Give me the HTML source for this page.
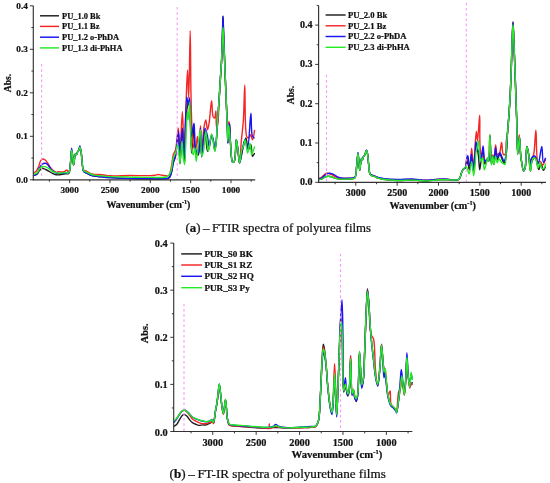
<!DOCTYPE html><html><head><meta charset="utf-8"><style>html,body{margin:0;padding:0;background:#fff;}svg{display:block;}</style></head><body><svg width="550" height="483" viewBox="0 0 550 483" font-family="'Liberation Serif',serif" font-weight="bold" fill="#111"><style>text{stroke:#111;stroke-width:0.22px}</style>
<rect width="550" height="483" fill="#fff"/>
<path d="M33.50,175.60 C33.50,175.60 36.02,175.08 37.00,174.30 C38.10,173.43 38.65,171.46 39.60,170.40 C40.41,169.49 41.22,168.37 42.20,168.20 C43.21,168.03 44.47,169.00 45.60,169.50 C46.77,170.02 47.94,170.66 49.10,171.30 C50.28,171.96 51.42,172.81 52.60,173.40 C53.72,173.96 54.84,174.57 56.00,174.80 C57.14,175.02 58.22,174.91 59.50,174.80 C61.09,174.67 63.17,174.14 64.80,173.90 C66.20,173.69 67.77,174.28 68.70,173.40 C70.11,172.07 69.94,167.81 70.40,164.50 C70.97,160.37 71.10,150.52 71.60,150.50 C71.95,150.48 72.47,155.02 72.80,157.40 C73.15,159.91 73.28,165.19 73.60,165.20 C73.92,165.21 74.31,159.46 74.70,157.40 C74.96,156.03 75.03,154.22 75.50,154.00 C75.77,153.87 76.20,154.61 76.50,154.50 C77.00,154.31 77.26,152.29 77.70,151.60 C77.98,151.15 78.32,151.06 78.60,150.60 C79.04,149.88 79.41,147.49 79.80,147.50 C80.24,147.51 80.74,149.83 81.10,151.60 C81.72,154.63 81.82,160.65 82.30,164.20 C82.66,166.82 82.54,169.51 83.50,171.00 C84.18,172.06 85.34,172.37 86.40,173.00 C87.58,173.71 88.97,174.50 90.30,175.00 C91.57,175.48 92.67,175.72 94.20,176.00 C96.34,176.40 99.40,176.63 102.00,176.90 C104.60,177.17 106.59,177.38 109.80,177.60 C114.96,177.96 123.28,178.40 130.00,178.60 C136.68,178.80 143.46,178.87 150.00,178.80 C156.31,178.73 165.70,179.76 168.60,178.20 C169.82,177.54 169.98,176.61 170.50,175.50 C171.19,174.04 171.56,172.02 172.00,170.00 C172.52,167.59 172.66,164.45 173.30,162.00 C173.87,159.83 174.85,158.70 175.50,156.00 C176.74,150.86 177.57,132.98 178.30,133.00 C179.14,133.03 179.34,163.79 180.00,163.80 C180.69,163.81 181.63,130.00 182.40,130.00 C183.16,130.00 183.93,163.01 184.60,163.00 C185.44,162.99 185.18,120.26 186.80,110.00 C187.48,105.70 188.62,100.92 189.30,101.00 C190.91,101.18 190.63,152.98 191.60,153.00 C192.30,153.02 193.31,125.99 194.00,126.00 C194.67,126.01 193.99,147.72 195.70,152.00 C196.36,153.66 197.58,155.17 198.20,155.00 C199.14,154.73 199.14,149.39 199.50,146.00 C199.96,141.64 200.18,131.00 200.50,131.00 C200.92,131.00 200.97,156.97 201.70,157.00 C202.45,157.03 203.99,130.00 205.00,130.00 C205.90,130.00 206.35,151.21 207.50,151.40 C207.98,151.48 208.59,149.52 209.10,148.00 C210.02,145.26 210.75,136.05 211.60,136.00 C212.16,135.97 212.81,139.02 213.30,141.00 C213.98,143.74 214.38,151.01 214.90,151.00 C215.49,150.99 216.28,141.82 216.60,138.00 C216.85,135.02 216.72,133.20 216.90,130.00 C217.16,125.20 217.78,117.91 218.20,112.00 C218.61,106.25 219.02,100.75 219.40,95.00 C219.79,89.09 220.13,82.91 220.50,77.00 C220.86,71.25 221.33,65.52 221.60,60.00 C221.85,54.76 221.93,49.78 222.09,44.67 C222.25,39.56 222.42,34.25 222.58,29.34 C222.73,24.79 222.85,16.20 223.00,16.20 C223.15,16.20 223.31,24.79 223.48,29.34 C223.66,34.25 223.85,39.56 224.04,44.67 C224.23,49.78 224.40,54.69 224.60,60.00 C224.82,65.76 225.06,72.09 225.30,78.00 C225.53,83.75 225.77,89.33 226.00,95.00 C226.23,100.67 226.47,106.25 226.70,112.00 C226.94,117.91 227.19,124.49 227.40,130.00 C227.58,134.69 227.61,142.99 227.90,143.00 C228.25,143.01 229.06,123.19 229.50,123.20 C229.96,123.21 230.04,138.00 230.60,144.80 C231.11,150.92 231.15,161.44 232.60,162.20 C233.08,162.45 233.82,162.02 234.30,161.30 C235.92,158.88 235.56,139.82 236.30,139.80 C236.80,139.78 237.39,146.15 237.90,149.70 C238.49,153.80 238.82,162.96 239.60,163.00 C240.38,163.04 241.53,154.24 242.60,150.00 C243.63,145.91 244.93,137.97 245.90,138.00 C246.85,138.03 247.33,149.56 248.40,149.70 C249.12,149.80 250.26,144.69 250.90,144.80 C251.84,144.96 251.55,156.20 252.50,156.40 C253.06,156.52 254.60,153.00 254.60,153.00" fill="none" stroke="#1e1e1e" stroke-width="1.4" stroke-linejoin="round"/>
<path d="M33.50,173.00 C33.50,173.00 35.26,172.27 36.00,171.50 C36.99,170.48 37.78,168.64 38.50,167.00 C39.30,165.18 39.70,162.39 40.50,161.00 C41.01,160.12 41.47,159.30 42.20,159.10 C43.00,158.87 44.35,159.44 45.20,160.00 C46.09,160.58 46.68,161.59 47.40,162.60 C48.28,163.82 49.08,165.62 50.00,166.90 C50.82,168.05 51.60,169.13 52.60,170.00 C53.60,170.86 54.89,171.87 56.00,172.10 C56.92,172.29 57.81,171.71 58.70,171.70 C59.57,171.69 60.37,172.04 61.30,172.00 C62.38,171.96 63.81,171.69 64.80,171.30 C65.62,170.98 66.26,169.90 66.90,170.00 C67.57,170.10 68.20,172.23 68.70,172.10 C69.56,171.88 69.95,167.21 70.40,164.20 C70.99,160.27 71.11,150.52 71.60,150.50 C71.95,150.49 72.47,155.02 72.80,157.40 C73.15,159.91 73.28,165.19 73.60,165.20 C73.92,165.21 74.31,159.46 74.70,157.40 C74.96,156.03 75.03,154.22 75.50,154.00 C75.77,153.87 76.20,154.61 76.50,154.50 C77.00,154.31 77.26,152.29 77.70,151.60 C77.98,151.15 78.32,151.07 78.60,150.60 C79.06,149.83 79.41,147.19 79.80,147.20 C80.24,147.21 80.74,149.73 81.10,151.60 C81.70,154.70 81.79,160.82 82.30,164.20 C82.65,166.52 82.56,168.87 83.50,170.00 C84.18,170.82 85.38,170.69 86.40,171.20 C87.62,171.81 88.96,172.96 90.30,173.50 C91.56,174.00 92.67,174.20 94.20,174.40 C96.34,174.69 99.41,174.47 102.00,174.70 C104.61,174.93 106.58,175.60 109.80,175.80 C114.95,176.12 123.28,175.53 130.00,175.50 C136.68,175.47 145.56,175.77 150.00,175.60 C152.22,175.52 153.49,175.41 155.00,175.20 C156.28,175.02 157.33,174.50 158.50,174.50 C159.67,174.50 160.64,175.02 162.00,175.20 C163.85,175.44 167.19,176.48 168.60,175.60 C169.83,174.83 169.97,172.78 170.50,171.00 C171.17,168.73 171.54,165.69 172.00,163.00 C172.47,160.26 172.59,157.03 173.30,154.70 C173.86,152.87 174.86,152.21 175.50,150.00 C176.82,145.45 177.55,128.18 178.30,128.20 C179.04,128.22 179.42,149.70 180.00,149.70 C180.77,149.69 181.72,111.59 182.40,111.60 C183.08,111.61 183.55,149.70 184.10,149.70 C184.58,149.70 185.01,131.19 185.50,120.00 C186.13,105.47 186.91,69.90 187.50,69.90 C187.94,69.90 188.33,98.00 188.70,98.00 C189.27,97.99 189.81,30.80 190.20,30.80 C190.58,30.80 190.56,75.93 191.00,95.00 C191.35,110.34 191.58,126.97 192.40,136.50 C192.83,141.54 193.09,145.80 194.00,148.00 C194.42,149.02 195.07,150.11 195.50,150.00 C196.51,149.74 196.81,136.49 197.40,136.50 C197.98,136.51 198.54,149.71 199.00,149.70 C199.62,149.68 200.05,125.70 200.50,125.70 C200.95,125.70 201.09,149.68 201.70,149.70 C202.30,149.72 203.14,131.86 204.10,126.50 C204.62,123.61 205.28,119.88 205.80,119.90 C206.43,119.93 206.89,129.78 207.50,129.80 C208.00,129.82 208.59,126.08 209.10,123.20 C210.03,117.93 210.88,100.60 211.60,100.60 C212.21,100.60 211.98,114.89 213.20,117.00 C213.59,117.68 214.22,118.15 214.60,118.00 C215.38,117.69 215.58,110.98 215.90,111.00 C216.38,111.03 215.81,126.74 216.60,127.00 C216.82,127.07 217.16,126.63 217.40,126.00 C218.60,122.89 218.84,103.94 219.40,95.00 C219.83,88.19 220.13,82.91 220.50,77.00 C220.86,71.25 221.33,65.18 221.60,60.00 C221.83,55.63 221.93,51.95 222.09,47.92 C222.25,43.90 222.42,39.72 222.58,35.85 C222.73,32.27 222.85,25.50 223.00,25.50 C223.15,25.50 223.31,32.27 223.48,35.85 C223.66,39.72 223.85,43.90 224.04,47.92 C224.23,51.95 224.41,55.57 224.60,60.00 C224.83,65.40 225.06,72.09 225.30,78.00 C225.53,83.75 225.77,89.33 226.00,95.00 C226.23,100.67 226.47,106.25 226.70,112.00 C226.94,117.91 226.85,129.96 227.40,130.00 C227.78,130.03 228.55,121.47 229.00,121.50 C229.75,121.54 229.94,137.61 230.60,144.80 C231.17,151.03 231.15,161.44 232.60,162.20 C233.08,162.45 233.82,162.02 234.30,161.30 C235.92,158.88 235.56,139.82 236.30,139.80 C236.80,139.78 237.39,146.15 237.90,149.70 C238.49,153.80 239.09,163.01 239.60,163.00 C240.25,162.98 240.67,148.59 241.30,141.40 C241.93,134.22 242.85,127.94 243.40,119.90 C244.10,109.68 244.31,85.00 244.80,85.00 C245.40,85.00 244.39,131.42 246.70,136.50 C247.19,137.58 247.84,138.17 248.40,138.10 C249.12,138.01 249.86,134.74 250.50,134.80 C251.25,134.87 251.90,139.85 252.50,139.80 C253.33,139.73 254.60,129.80 254.60,129.80" fill="none" stroke="#f52525" stroke-width="1.4" stroke-linejoin="round"/>
<path d="M33.50,175.20 C33.50,175.20 36.05,174.80 37.00,173.90 C38.26,172.70 38.63,169.52 39.60,167.80 C40.40,166.39 41.12,164.94 42.20,164.20 C43.16,163.54 44.62,163.13 45.60,163.30 C46.45,163.45 47.12,164.14 47.80,164.80 C48.61,165.58 49.21,166.82 50.00,167.80 C50.81,168.82 51.61,169.94 52.60,170.80 C53.60,171.67 54.81,172.57 56.00,173.00 C57.11,173.40 58.21,173.38 59.50,173.40 C61.08,173.43 63.17,173.06 64.80,173.00 C66.20,172.95 67.76,173.79 68.70,173.00 C70.21,171.72 69.94,166.66 70.40,163.00 C70.95,158.58 71.14,148.31 71.60,148.30 C71.96,148.29 72.46,154.48 72.80,157.40 C73.12,160.10 73.28,165.19 73.60,165.20 C73.92,165.21 74.31,159.46 74.70,157.40 C74.96,156.03 75.03,154.22 75.50,154.00 C75.77,153.87 76.20,154.61 76.50,154.50 C77.00,154.31 77.26,152.29 77.70,151.60 C77.98,151.15 78.33,151.10 78.60,150.60 C79.11,149.66 79.40,145.99 79.80,146.00 C80.24,146.01 80.73,149.35 81.10,151.60 C81.65,154.95 81.82,160.65 82.30,164.20 C82.66,166.82 82.54,169.51 83.50,171.00 C84.18,172.06 85.34,172.37 86.40,173.00 C87.58,173.71 88.97,174.50 90.30,175.00 C91.57,175.48 92.67,175.72 94.20,176.00 C96.34,176.40 99.40,176.63 102.00,176.90 C104.60,177.17 106.59,177.39 109.80,177.60 C114.96,177.93 123.28,178.23 130.00,178.40 C136.68,178.57 143.46,178.67 150.00,178.60 C156.31,178.53 165.70,179.50 168.60,178.00 C169.79,177.39 169.98,176.56 170.50,175.50 C171.20,174.07 171.55,171.95 172.00,170.00 C172.50,167.82 172.72,165.32 173.30,163.00 C173.89,160.65 174.85,159.08 175.50,156.00 C176.70,150.35 177.54,131.49 178.30,131.50 C179.01,131.51 179.35,152.99 180.00,153.00 C180.70,153.01 181.73,128.19 182.40,128.20 C183.13,128.21 183.51,158.00 184.10,158.00 C184.95,157.99 185.61,97.28 186.80,97.20 C187.23,97.17 187.74,105.00 188.20,105.00 C188.64,105.00 189.12,97.97 189.50,98.00 C190.38,98.06 190.00,136.40 191.20,136.50 C191.91,136.56 193.29,123.15 194.00,123.20 C195.00,123.27 194.03,145.20 195.70,149.70 C196.36,151.48 197.58,153.15 198.20,153.00 C199.07,152.78 199.15,148.02 199.50,144.80 C200.00,140.22 200.18,128.10 200.50,128.10 C200.92,128.10 200.95,156.27 201.70,156.30 C202.45,156.33 203.64,128.22 205.00,128.10 C205.75,128.03 206.83,133.48 207.50,136.40 C208.22,139.56 208.45,146.38 209.10,146.40 C209.80,146.42 210.76,134.85 211.60,134.80 C212.16,134.77 212.81,137.83 213.30,139.80 C213.98,142.52 214.39,149.71 214.90,149.70 C215.49,149.69 216.28,140.04 216.60,136.40 C216.82,133.89 216.74,132.67 216.90,130.00 C217.17,125.52 217.78,117.91 218.20,112.00 C218.61,106.25 219.02,100.75 219.40,95.00 C219.79,89.09 220.13,82.91 220.50,77.00 C220.86,71.25 221.33,65.52 221.60,60.00 C221.85,54.76 221.93,49.78 222.09,44.67 C222.25,39.56 222.42,34.25 222.58,29.34 C222.73,24.79 222.85,16.20 223.00,16.20 C223.15,16.20 223.31,24.79 223.48,29.34 C223.66,34.25 223.85,39.56 224.04,44.67 C224.23,49.78 224.40,54.69 224.60,60.00 C224.82,65.76 225.06,72.09 225.30,78.00 C225.53,83.75 225.77,89.33 226.00,95.00 C226.23,100.67 226.47,106.25 226.70,112.00 C226.94,117.91 227.19,124.49 227.40,130.00 C227.58,134.69 227.61,142.99 227.90,143.00 C228.25,143.01 229.06,123.19 229.50,123.20 C229.96,123.21 230.04,138.00 230.60,144.80 C231.11,150.92 231.15,161.44 232.60,162.20 C233.08,162.45 233.82,162.02 234.30,161.30 C235.92,158.88 235.56,139.82 236.30,139.80 C236.80,139.78 237.39,146.15 237.90,149.70 C238.49,153.80 238.85,162.97 239.60,163.00 C240.40,163.03 241.56,152.23 242.60,148.00 C243.38,144.84 244.17,139.81 245.00,139.80 C245.83,139.79 246.84,148.08 247.60,148.00 C249.13,147.84 250.05,113.19 250.90,113.20 C251.60,113.21 250.79,133.43 252.50,136.50 C253.07,137.52 254.60,138.00 254.60,138.00" fill="none" stroke="#1515f5" stroke-width="1.4" stroke-linejoin="round"/>
<path d="M33.50,174.30 C33.50,174.30 36.03,173.80 37.00,173.00 C38.13,172.07 38.63,169.84 39.60,168.70 C40.40,167.76 41.20,166.80 42.20,166.50 C43.20,166.20 44.49,166.56 45.60,166.90 C46.79,167.26 47.96,167.99 49.10,168.70 C50.30,169.45 51.39,170.64 52.60,171.30 C53.70,171.90 54.84,172.28 56.00,172.60 C57.14,172.91 58.21,173.16 59.50,173.20 C61.08,173.25 63.17,172.65 64.80,172.60 C66.20,172.56 67.77,173.53 68.70,172.80 C70.09,171.71 69.94,167.44 70.40,164.20 C70.98,160.07 71.11,150.02 71.60,150.00 C71.95,149.99 72.47,154.90 72.80,157.40 C73.14,159.96 73.28,165.19 73.60,165.20 C73.92,165.21 74.31,159.46 74.70,157.40 C74.96,156.03 75.03,154.22 75.50,154.00 C75.77,153.87 76.20,154.61 76.50,154.50 C77.00,154.31 77.26,152.29 77.70,151.60 C77.98,151.15 78.32,151.07 78.60,150.60 C79.06,149.83 79.41,147.19 79.80,147.20 C80.24,147.21 80.74,149.73 81.10,151.60 C81.70,154.70 81.81,160.73 82.30,164.20 C82.65,166.67 82.54,169.22 83.50,170.50 C84.18,171.42 85.36,171.47 86.40,172.00 C87.60,172.62 88.97,173.48 90.30,174.00 C91.58,174.50 92.66,174.81 94.20,175.10 C96.34,175.51 99.40,175.65 102.00,175.90 C104.60,176.15 106.59,176.42 109.80,176.60 C114.96,176.89 123.28,176.97 130.00,177.10 C136.68,177.23 143.71,177.43 150.00,177.40 C155.63,177.37 162.85,178.00 166.00,177.00 C167.49,176.53 168.23,175.80 169.00,175.00 C169.69,174.28 170.08,173.49 170.50,172.50 C171.03,171.25 171.32,169.81 171.70,168.00 C172.27,165.33 172.48,160.84 173.30,158.00 C173.95,155.76 175.12,154.28 175.80,152.20 C176.55,149.91 177.00,144.80 177.50,144.80 C177.91,144.80 178.26,147.66 178.60,149.70 C179.15,153.04 179.52,163.00 180.00,163.00 C180.61,162.99 181.32,141.40 181.90,141.40 C182.41,141.40 182.71,153.71 183.30,158.00 C183.68,160.74 184.22,164.73 184.60,164.70 C185.47,164.64 185.75,138.00 186.30,128.20 C186.67,121.59 187.03,111.61 187.40,111.60 C187.66,111.60 187.90,119.90 188.20,119.90 C188.63,119.90 189.27,102.19 189.70,102.20 C190.37,102.22 190.12,135.59 191.20,144.80 C191.73,149.28 192.52,154.68 193.20,154.70 C193.76,154.71 194.44,147.97 194.90,148.00 C195.54,148.05 195.69,161.29 196.20,161.30 C196.77,161.31 197.46,150.16 198.20,144.80 C198.90,139.68 199.93,129.77 200.50,129.80 C201.25,129.84 200.69,156.15 201.70,156.30 C202.15,156.36 202.89,153.62 203.40,151.40 C204.41,147.04 204.98,131.50 205.80,131.50 C206.62,131.50 207.29,151.37 208.30,151.40 C209.25,151.43 210.50,134.00 211.60,134.00 C212.70,134.00 214.05,151.43 214.90,151.40 C215.68,151.37 216.28,140.36 216.60,136.40 C216.81,133.82 216.74,132.67 216.90,130.00 C217.17,125.52 217.78,117.91 218.20,112.00 C218.61,106.25 219.02,100.75 219.40,95.00 C219.79,89.09 220.13,82.91 220.50,77.00 C220.86,71.25 221.33,65.12 221.60,60.00 C221.83,55.79 221.93,52.32 222.09,48.48 C222.25,44.65 222.42,40.66 222.58,36.97 C222.73,33.55 222.85,27.10 223.00,27.10 C223.15,27.10 223.31,33.55 223.48,36.97 C223.66,40.66 223.85,44.65 224.04,48.48 C224.23,52.32 224.41,55.73 224.60,60.00 C224.83,65.33 225.06,72.09 225.30,78.00 C225.53,83.75 225.77,89.33 226.00,95.00 C226.23,100.67 226.47,106.25 226.70,112.00 C226.94,117.91 227.18,124.68 227.40,130.00 C227.58,134.23 227.71,141.40 227.90,141.40 C228.13,141.40 228.29,124.91 228.70,124.90 C229.16,124.89 229.93,138.39 230.60,144.80 C231.23,150.80 231.15,161.44 232.60,162.20 C233.08,162.45 233.82,162.02 234.30,161.30 C235.92,158.88 235.56,139.82 236.30,139.80 C236.80,139.78 237.39,146.15 237.90,149.70 C238.49,153.80 238.95,162.99 239.60,163.00 C240.25,163.01 240.88,152.61 241.80,149.70 C242.28,148.18 242.92,147.72 243.40,146.40 C244.06,144.60 244.52,139.78 245.10,139.80 C245.91,139.83 246.72,152.98 247.60,153.00 C248.37,153.02 249.33,143.07 250.00,143.10 C250.72,143.13 250.84,154.62 251.70,154.70 C252.45,154.77 254.60,146.40 254.60,146.40" fill="none" stroke="#25eb25" stroke-width="1.4" stroke-linejoin="round"/>
<path d="M318.80,179.60 C318.80,179.60 320.64,179.47 321.60,179.10 C322.79,178.64 324.11,177.26 325.30,176.80 C326.26,176.43 327.10,176.32 328.10,176.30 C329.25,176.28 330.68,176.45 331.80,176.80 C332.83,177.12 333.52,177.83 334.60,178.20 C335.94,178.65 337.73,178.95 339.30,179.10 C340.86,179.25 342.34,179.11 344.00,179.10 C345.88,179.08 348.30,179.09 350.00,179.00 C351.26,178.93 352.39,179.00 353.30,178.70 C354.02,178.46 354.61,178.35 355.10,177.60 C356.25,175.84 356.23,169.97 356.70,166.00 C357.20,161.82 357.60,153.10 358.00,153.10 C358.36,153.10 358.66,160.88 359.00,164.00 C359.26,166.36 359.52,170.20 359.80,170.20 C360.12,170.20 360.41,163.99 360.80,161.90 C361.04,160.61 361.30,158.83 361.60,158.80 C361.82,158.78 362.06,160.32 362.30,160.30 C362.66,160.27 362.90,157.69 363.40,156.70 C363.81,155.89 364.44,155.53 364.90,154.70 C365.51,153.59 366.04,150.49 366.50,150.50 C366.89,150.51 367.21,152.24 367.50,153.60 C368.01,156.03 368.17,160.55 368.60,164.00 C369.03,167.45 369.01,172.45 370.10,174.30 C370.65,175.23 371.47,175.55 372.20,175.90 C372.84,176.21 373.45,176.13 374.20,176.40 C375.26,176.79 376.54,177.73 377.90,178.20 C379.44,178.73 380.87,178.98 383.00,179.30 C386.50,179.83 392.11,180.35 397.00,180.50 C402.36,180.67 408.80,179.96 413.90,180.10 C418.13,180.21 421.52,181.03 425.50,181.00 C429.74,180.97 434.66,179.98 438.60,179.80 C441.82,179.65 444.80,179.75 447.40,179.80 C449.48,179.84 451.17,180.04 453.00,180.00 C454.77,179.96 457.00,180.23 458.20,179.60 C459.09,179.14 459.48,178.35 460.00,177.40 C460.72,176.08 461.06,173.69 461.70,172.20 C462.22,171.01 462.69,170.04 463.40,169.10 C464.12,168.14 465.34,167.68 466.00,166.50 C466.88,164.91 467.01,159.99 467.50,160.00 C468.11,160.01 468.67,170.00 469.30,170.00 C469.99,170.00 470.82,157.99 471.50,158.00 C472.23,158.01 472.86,172.01 473.50,172.00 C474.30,171.98 474.16,150.83 475.80,150.00 C476.29,149.75 477.01,150.25 477.50,151.00 C479.00,153.30 479.03,169.69 479.70,169.70 C480.13,169.71 480.42,164.85 480.90,162.00 C481.50,158.44 482.47,149.98 483.10,150.00 C483.78,150.02 483.81,163.82 484.80,164.00 C485.36,164.10 486.12,160.19 486.90,160.00 C487.43,159.87 488.13,161.43 488.60,161.20 C490.23,160.41 489.45,136.00 489.90,136.00 C490.38,136.00 490.67,164.56 491.40,164.60 C491.80,164.62 492.37,156.10 492.80,156.10 C493.23,156.10 493.60,164.61 494.00,164.60 C494.53,164.59 494.99,150.02 495.60,150.00 C496.11,149.98 496.45,159.90 497.30,160.00 C497.98,160.08 499.13,154.00 499.90,154.00 C500.53,154.00 500.95,156.60 501.60,158.00 C502.33,159.58 503.39,163.05 504.10,163.00 C504.79,162.95 505.33,160.35 505.80,158.00 C506.82,152.89 506.96,140.27 507.50,133.00 C507.92,127.36 508.30,123.42 508.70,118.00 C509.17,111.59 509.70,104.40 510.10,97.00 C510.55,88.73 510.88,79.42 511.20,70.70 C511.51,62.08 511.76,52.26 512.00,45.00 C512.18,39.65 512.31,35.25 512.50,31.08 C512.65,27.67 512.83,21.80 513.00,21.80 C513.17,21.80 513.35,27.67 513.50,31.08 C513.69,35.25 513.80,39.65 514.00,45.00 C514.27,52.26 514.68,62.08 515.00,70.70 C515.32,79.42 515.61,88.53 515.90,97.00 C516.17,104.92 516.43,111.56 516.70,120.00 C517.03,130.32 517.10,154.38 517.70,154.40 C518.13,154.41 518.89,136.99 519.40,137.00 C519.93,137.01 520.03,150.14 520.80,156.10 C521.49,161.42 522.58,170.96 523.60,171.10 C524.08,171.17 524.67,169.62 525.10,168.10 C526.18,164.24 526.08,146.55 526.90,146.50 C527.41,146.47 528.18,151.48 528.70,154.70 C529.43,159.21 529.75,171.08 530.40,171.10 C530.91,171.12 530.98,163.39 532.10,161.00 C532.85,159.39 534.20,157.31 535.10,157.50 C536.60,157.81 537.71,169.59 538.80,169.60 C539.61,169.61 540.27,162.99 541.00,163.00 C541.77,163.01 542.39,170.29 543.30,170.40 C543.99,170.48 545.60,166.60 545.60,166.60" fill="none" stroke="#1e1e1e" stroke-width="1.4" stroke-linejoin="round"/>
<path d="M318.80,178.20 C318.80,178.20 320.73,177.83 321.60,177.30 C322.61,176.68 323.47,175.23 324.40,174.50 C325.17,173.90 325.91,173.23 326.70,173.10 C327.44,172.98 328.20,173.39 329.00,173.60 C329.89,173.84 330.89,174.07 331.80,174.50 C332.76,174.96 333.56,175.78 334.60,176.30 C335.74,176.87 337.05,177.38 338.40,177.70 C339.84,178.04 341.39,178.11 343.00,178.20 C344.77,178.30 346.70,178.28 348.60,178.20 C350.59,178.12 353.32,178.97 354.70,177.70 C356.63,175.93 356.16,170.00 356.70,166.00 C357.27,161.81 357.60,153.10 358.00,153.10 C358.36,153.10 358.66,160.88 359.00,164.00 C359.26,166.36 359.52,170.20 359.80,170.20 C360.12,170.20 360.41,163.99 360.80,161.90 C361.04,160.61 361.30,158.83 361.60,158.80 C361.82,158.78 362.06,160.32 362.30,160.30 C362.66,160.27 362.90,157.69 363.40,156.70 C363.81,155.89 364.44,155.53 364.90,154.70 C365.51,153.59 366.04,150.49 366.50,150.50 C366.89,150.51 367.21,152.24 367.50,153.60 C368.01,156.03 368.16,160.57 368.60,164.00 C369.03,167.37 369.01,172.22 370.10,174.00 C370.65,174.90 371.48,175.17 372.20,175.50 C372.85,175.80 373.44,175.74 374.20,176.00 C375.26,176.36 376.54,177.17 377.90,177.60 C379.44,178.09 380.87,178.40 383.00,178.70 C386.50,179.20 392.11,179.57 397.00,179.70 C402.37,179.84 408.80,179.25 413.90,179.40 C418.13,179.53 421.52,180.30 425.50,180.30 C429.73,180.30 434.66,179.47 438.60,179.30 C441.82,179.16 444.80,179.03 447.40,179.20 C449.48,179.34 451.16,179.94 453.00,180.00 C454.76,180.06 457.00,180.23 458.20,179.60 C459.09,179.14 459.48,178.35 460.00,177.40 C460.72,176.08 461.06,173.69 461.70,172.20 C462.22,171.01 462.71,169.82 463.40,169.10 C463.93,168.55 464.69,168.74 465.20,168.00 C466.38,166.30 466.57,157.02 467.30,157.00 C467.88,156.98 468.54,162.39 469.10,164.00 C469.41,164.89 469.73,166.05 470.00,166.00 C470.78,165.87 471.15,148.30 471.70,148.30 C472.29,148.30 472.77,168.70 473.40,168.70 C474.25,168.70 475.45,131.42 476.30,131.40 C476.73,131.39 477.08,140.81 477.50,140.80 C478.19,140.79 479.15,115.28 479.70,115.30 C480.38,115.32 478.83,148.59 480.90,154.40 C481.58,156.32 482.65,156.66 483.50,157.80 C484.35,158.93 485.29,161.26 486.00,161.20 C486.68,161.14 487.26,157.76 487.70,157.80 C488.12,157.84 488.34,161.23 488.60,161.20 C489.32,161.12 489.43,134.80 489.90,134.80 C490.36,134.80 490.54,159.91 491.40,160.00 C491.79,160.04 492.31,155.03 492.80,155.00 C493.19,154.98 493.64,158.05 494.00,158.00 C494.72,157.91 495.00,145.02 495.60,145.00 C496.12,144.99 496.19,153.96 497.30,154.40 C497.91,154.64 498.98,153.69 499.60,152.70 C500.79,150.82 501.00,142.48 501.60,142.50 C502.24,142.52 502.05,153.32 503.30,154.40 C503.77,154.81 504.54,154.82 505.00,154.40 C506.30,153.22 505.81,144.70 506.30,140.80 C506.67,137.83 507.15,136.03 507.50,133.00 C507.99,128.82 508.30,123.42 508.70,118.00 C509.17,111.59 509.70,104.40 510.10,97.00 C510.55,88.73 510.88,79.42 511.20,70.70 C511.51,62.08 511.75,52.10 512.00,45.00 C512.18,39.97 512.31,35.96 512.50,32.10 C512.65,28.94 512.83,23.50 513.00,23.50 C513.17,23.50 513.35,28.94 513.50,32.10 C513.69,35.96 513.80,39.97 514.00,45.00 C514.28,52.10 514.68,62.08 515.00,70.70 C515.32,79.42 515.61,88.53 515.90,97.00 C516.17,104.92 516.43,111.70 516.70,120.00 C517.02,129.79 517.17,151.99 517.70,152.00 C518.09,152.01 518.71,134.60 519.20,134.60 C519.75,134.60 519.95,149.60 520.80,156.10 C521.51,161.57 522.58,170.96 523.60,171.10 C524.08,171.17 524.67,169.62 525.10,168.10 C526.18,164.24 526.08,146.55 526.90,146.50 C527.41,146.47 528.17,151.57 528.70,154.70 C529.39,158.79 529.92,169.00 530.40,169.00 C530.79,169.00 530.66,161.79 531.40,159.20 C531.93,157.35 532.99,156.88 533.60,154.70 C534.96,149.86 535.19,130.09 535.90,130.10 C536.71,130.11 535.80,160.71 538.10,162.20 C538.72,162.60 539.64,161.17 540.30,161.40 C541.20,161.71 541.81,165.13 542.60,165.10 C543.57,165.06 545.60,159.20 545.60,159.20" fill="none" stroke="#f52525" stroke-width="1.4" stroke-linejoin="round"/>
<path d="M318.80,179.10 C318.80,179.10 320.66,178.73 321.60,178.20 C322.82,177.52 324.11,175.84 325.30,175.00 C326.26,174.32 327.06,173.65 328.10,173.40 C329.21,173.14 330.68,173.30 331.80,173.60 C332.83,173.87 333.68,174.48 334.60,175.00 C335.55,175.54 336.31,176.30 337.40,176.80 C338.73,177.41 340.39,177.95 342.10,178.20 C344.07,178.49 346.47,178.36 348.60,178.20 C350.67,178.05 353.32,178.65 354.70,177.30 C356.63,175.41 356.16,169.54 356.70,165.50 C357.27,161.28 357.61,152.50 358.00,152.50 C358.37,152.50 358.65,160.76 359.00,164.00 C359.26,166.39 359.52,170.20 359.80,170.20 C360.12,170.20 360.43,164.09 360.80,161.90 C361.05,160.45 361.31,158.32 361.60,158.30 C361.82,158.29 362.05,160.31 362.30,160.30 C362.63,160.29 362.90,157.69 363.40,156.70 C363.81,155.89 364.45,155.55 364.90,154.70 C365.53,153.50 366.05,149.99 366.50,150.00 C366.89,150.01 367.21,152.07 367.50,153.60 C367.99,156.15 368.16,160.59 368.60,164.00 C369.03,167.32 369.01,172.09 370.10,173.80 C370.65,174.66 371.48,174.86 372.20,175.20 C372.85,175.51 373.44,175.52 374.20,175.80 C375.25,176.18 376.54,176.97 377.90,177.40 C379.44,177.89 380.87,178.20 383.00,178.50 C386.50,179.00 392.11,179.38 397.00,179.50 C402.37,179.63 408.80,178.90 413.90,179.10 C418.14,179.27 421.51,180.28 425.50,180.30 C429.73,180.32 434.66,179.28 438.60,179.10 C441.82,178.95 444.80,178.89 447.40,179.10 C449.48,179.27 451.16,179.92 453.00,180.00 C454.76,180.07 457.00,180.23 458.20,179.60 C459.09,179.14 459.48,178.35 460.00,177.40 C460.72,176.08 461.06,173.69 461.70,172.20 C462.22,171.01 462.71,169.82 463.40,169.10 C463.93,168.55 464.71,168.74 465.20,168.00 C466.31,166.34 466.23,159.39 466.90,157.40 C467.18,156.56 467.53,155.65 467.80,155.70 C468.37,155.80 468.54,162.53 469.10,164.30 C469.37,165.15 469.74,166.15 470.00,166.10 C470.65,165.98 470.82,153.91 471.30,153.90 C471.70,153.89 472.24,159.85 472.60,162.60 C472.92,165.06 473.09,169.60 473.40,169.60 C473.90,169.60 474.73,156.43 475.20,151.30 C475.54,147.59 475.58,141.72 476.00,141.70 C476.38,141.68 476.82,147.31 477.50,149.30 C477.98,150.70 478.70,151.34 479.20,152.70 C479.88,154.55 480.35,159.52 480.90,159.50 C481.67,159.47 482.46,145.88 483.10,145.90 C483.77,145.92 483.46,160.65 484.80,161.20 C485.36,161.43 486.25,159.47 486.90,159.50 C487.51,159.53 488.14,161.38 488.60,161.20 C490.11,160.62 489.44,136.00 489.90,136.00 C490.37,136.00 490.58,161.93 491.40,162.00 C491.79,162.03 492.37,156.09 492.80,156.10 C493.23,156.11 493.62,162.02 494.00,162.00 C494.59,161.97 494.99,147.62 495.60,147.60 C496.11,147.59 496.39,157.66 497.30,157.80 C497.98,157.90 499.13,152.70 499.90,152.70 C500.53,152.70 500.98,154.85 501.60,156.10 C502.36,157.63 503.39,161.25 504.10,161.20 C504.79,161.15 505.33,158.45 505.80,156.10 C506.78,151.22 506.97,139.87 507.50,133.00 C507.93,127.46 508.30,123.42 508.70,118.00 C509.17,111.59 509.70,104.40 510.10,97.00 C510.55,88.73 510.88,79.42 511.20,70.70 C511.51,62.08 511.75,52.15 512.00,45.00 C512.18,39.87 512.31,35.75 512.50,31.80 C512.65,28.57 512.83,23.00 513.00,23.00 C513.17,23.00 513.35,28.57 513.50,31.80 C513.69,35.75 513.80,39.87 514.00,45.00 C514.27,52.15 514.68,62.08 515.00,70.70 C515.32,79.42 515.61,88.53 515.90,97.00 C516.17,104.92 516.43,111.64 516.70,120.00 C517.03,130.01 517.08,152.98 517.70,153.00 C518.13,153.02 518.90,136.99 519.40,137.00 C519.95,137.01 520.03,150.14 520.80,156.10 C521.49,161.42 522.58,170.96 523.60,171.10 C524.08,171.17 524.67,169.62 525.10,168.10 C526.18,164.24 526.08,146.55 526.90,146.50 C527.41,146.47 528.17,151.62 528.70,154.70 C529.37,158.59 529.93,168.01 530.40,168.00 C530.80,168.00 530.16,160.34 531.40,158.40 C532.23,157.10 534.08,155.85 535.10,156.20 C536.50,156.67 537.17,163.78 538.10,163.70 C539.48,163.58 540.93,146.45 541.80,146.50 C542.62,146.55 542.25,162.00 543.30,162.20 C543.89,162.31 545.60,157.70 545.60,157.70" fill="none" stroke="#1515f5" stroke-width="1.4" stroke-linejoin="round"/>
<path d="M318.80,179.60 C318.80,179.60 320.64,179.47 321.60,179.10 C322.79,178.64 324.11,177.26 325.30,176.80 C326.26,176.43 327.10,176.32 328.10,176.30 C329.25,176.28 330.68,176.45 331.80,176.80 C332.83,177.12 333.52,177.83 334.60,178.20 C335.94,178.65 337.73,178.95 339.30,179.10 C340.86,179.25 342.34,179.11 344.00,179.10 C345.88,179.08 348.30,179.09 350.00,179.00 C351.26,178.93 352.39,179.00 353.30,178.70 C354.02,178.46 354.61,178.35 355.10,177.60 C356.25,175.84 356.23,169.97 356.70,166.00 C357.20,161.82 357.60,153.10 358.00,153.10 C358.36,153.10 358.66,160.88 359.00,164.00 C359.26,166.36 359.52,170.20 359.80,170.20 C360.12,170.20 360.41,163.99 360.80,161.90 C361.04,160.61 361.30,158.83 361.60,158.80 C361.82,158.78 362.06,160.32 362.30,160.30 C362.66,160.27 362.90,157.69 363.40,156.70 C363.81,155.89 364.44,155.53 364.90,154.70 C365.51,153.59 366.04,150.49 366.50,150.50 C366.89,150.51 367.21,152.24 367.50,153.60 C368.01,156.03 368.17,160.55 368.60,164.00 C369.03,167.45 369.01,172.45 370.10,174.30 C370.65,175.23 371.47,175.55 372.20,175.90 C372.84,176.21 373.45,176.13 374.20,176.40 C375.26,176.79 376.54,177.73 377.90,178.20 C379.44,178.73 380.87,178.98 383.00,179.30 C386.50,179.83 392.11,180.35 397.00,180.50 C402.36,180.67 408.80,179.96 413.90,180.10 C418.13,180.21 421.52,181.03 425.50,181.00 C429.74,180.97 434.66,179.98 438.60,179.80 C441.82,179.65 444.80,179.75 447.40,179.80 C449.48,179.84 451.17,180.04 453.00,180.00 C454.77,179.96 457.00,180.23 458.20,179.60 C459.09,179.14 459.48,178.35 460.00,177.40 C460.72,176.08 461.06,173.69 461.70,172.20 C462.22,171.01 462.69,170.04 463.40,169.10 C464.12,168.14 465.32,166.41 466.00,166.50 C466.56,166.57 466.88,167.79 467.30,168.70 C467.92,170.04 468.56,173.93 469.10,173.90 C469.75,173.86 470.33,168.33 470.80,166.10 C471.15,164.43 471.40,161.69 471.70,161.70 C472.13,161.71 472.64,167.86 473.00,170.40 C473.28,172.38 473.42,175.70 473.70,175.70 C474.11,175.70 474.82,168.16 475.20,164.30 C475.59,160.33 475.55,155.01 476.00,152.20 C476.25,150.67 476.59,150.11 476.90,148.70 C477.37,146.60 477.98,140.78 478.40,140.80 C478.98,140.83 479.11,152.38 479.70,156.10 C480.05,158.27 480.36,161.14 480.90,161.20 C481.36,161.25 482.12,157.72 482.60,157.80 C483.45,157.94 483.57,169.63 484.30,169.70 C484.79,169.74 485.47,166.43 486.00,164.60 C486.61,162.51 487.22,157.80 487.70,157.80 C488.04,157.80 488.34,161.23 488.60,161.20 C489.32,161.12 489.45,134.80 489.90,134.80 C490.38,134.80 490.66,164.56 491.40,164.60 C491.80,164.62 492.37,156.10 492.80,156.10 C493.23,156.10 493.53,164.59 494.00,164.60 C494.47,164.61 495.02,156.12 495.60,156.10 C496.13,156.08 496.66,162.86 497.30,162.90 C497.82,162.93 498.36,158.66 499.00,158.60 C499.52,158.55 500.02,160.38 500.70,161.20 C501.43,162.09 502.49,163.11 503.30,163.70 C503.89,164.13 504.54,164.85 505.00,164.60 C506.37,163.84 505.87,153.05 506.30,147.60 C506.70,142.55 507.10,137.90 507.50,133.00 C507.90,128.03 508.30,123.42 508.70,118.00 C509.17,111.59 509.70,104.40 510.10,97.00 C510.55,88.73 510.88,79.42 511.20,70.70 C511.51,62.08 511.75,51.98 512.00,45.00 C512.17,40.21 512.31,36.51 512.50,32.88 C512.65,29.91 512.83,24.80 513.00,24.80 C513.17,24.80 513.35,29.91 513.50,32.88 C513.69,36.51 513.81,40.21 514.00,45.00 C514.28,51.98 514.68,62.08 515.00,70.70 C515.32,79.42 515.61,88.53 515.90,97.00 C516.17,104.92 516.43,111.56 516.70,120.00 C517.03,130.32 517.10,154.38 517.70,154.40 C518.13,154.41 518.89,136.99 519.40,137.00 C519.93,137.01 520.03,150.14 520.80,156.10 C521.49,161.42 522.58,170.96 523.60,171.10 C524.08,171.17 524.67,169.62 525.10,168.10 C526.18,164.24 526.08,146.55 526.90,146.50 C527.41,146.47 528.18,151.48 528.70,154.70 C529.43,159.21 529.75,171.08 530.40,171.10 C530.92,171.12 531.17,163.06 532.10,160.70 C532.64,159.32 533.39,157.80 534.10,157.70 C534.67,157.62 535.38,158.36 535.90,159.20 C536.93,160.85 537.35,168.07 538.10,168.10 C538.72,168.12 539.38,162.20 540.00,162.20 C540.62,162.20 540.79,167.35 541.80,168.10 C542.41,168.56 543.50,168.53 544.10,168.10 C544.95,167.49 545.60,163.70 545.60,163.70" fill="none" stroke="#25eb25" stroke-width="1.4" stroke-linejoin="round"/>
<path d="M173.80,426.30 C173.80,426.30 175.76,425.37 176.60,424.50 C177.68,423.38 178.45,421.31 179.40,419.80 C180.32,418.35 181.28,416.52 182.20,415.60 C182.80,415.00 183.33,414.41 184.00,414.40 C184.83,414.38 185.93,415.32 186.80,416.10 C187.83,417.03 188.63,418.68 189.60,419.80 C190.50,420.83 191.41,421.88 192.40,422.60 C193.28,423.24 194.18,423.56 195.20,424.00 C196.36,424.50 197.72,425.26 199.00,425.40 C200.22,425.53 201.46,424.98 202.70,424.90 C203.93,424.82 205.20,425.18 206.40,424.90 C207.67,424.61 208.95,423.67 210.10,423.10 C211.10,422.61 212.32,421.48 212.90,421.70 C213.35,421.87 213.39,423.52 213.60,423.50 C213.91,423.47 214.13,421.11 214.40,419.50 C214.80,417.11 215.15,413.19 215.60,410.50 C215.97,408.29 216.43,406.76 216.80,404.50 C217.28,401.60 217.68,397.79 218.10,394.50 C218.51,391.29 218.88,385.00 219.30,385.00 C219.72,385.00 220.20,391.21 220.60,394.50 C221.03,398.03 221.29,402.08 221.80,405.50 C222.25,408.52 222.92,414.01 223.40,414.00 C223.88,413.99 224.32,408.03 224.70,405.50 C225.00,403.47 225.24,400.00 225.50,400.00 C225.81,400.01 226.11,405.12 226.40,408.00 C226.74,411.37 226.78,415.91 227.40,419.00 C227.87,421.33 228.27,423.96 229.30,425.00 C229.97,425.67 230.69,425.58 231.80,425.80 C233.90,426.22 238.03,426.36 241.10,426.60 C244.10,426.83 246.67,427.00 250.00,427.20 C254.25,427.46 260.27,428.00 264.50,428.00 C267.80,428.00 270.67,427.57 273.30,427.50 C275.43,427.44 276.97,427.41 279.10,427.50 C281.71,427.60 284.60,428.13 287.80,428.20 C291.72,428.28 296.81,427.86 300.90,427.70 C304.51,427.56 308.41,427.57 311.10,427.30 C312.88,427.12 314.34,427.42 315.50,426.60 C316.83,425.66 317.56,423.98 318.30,421.50 C319.88,416.21 319.81,404.45 320.40,395.00 C321.08,384.15 321.40,369.39 322.00,360.00 C322.40,353.66 322.74,344.15 323.30,344.10 C323.54,344.08 323.83,345.64 324.10,347.00 C324.70,350.04 325.36,356.50 325.90,362.00 C326.56,368.69 326.88,376.92 327.60,384.30 C328.31,391.62 329.21,400.89 330.20,406.10 C330.76,409.07 331.51,413.04 332.00,413.00 C332.78,412.93 333.08,401.53 333.50,395.20 C333.98,387.98 334.23,372.00 334.60,372.00 C334.97,372.00 335.34,387.72 335.70,395.20 C336.04,402.19 336.33,415.50 336.70,415.50 C337.23,415.50 337.94,387.20 338.50,373.50 C339.04,360.39 339.56,345.37 340.00,335.00 C340.30,327.97 340.47,317.30 340.80,317.30 C341.13,317.30 341.63,327.42 342.00,335.00 C342.66,348.59 342.27,391.82 343.70,392.00 C344.17,392.06 344.81,385.99 345.40,386.00 C346.16,386.02 347.07,395.97 347.80,396.00 C348.26,396.02 348.73,394.04 349.10,392.00 C350.18,386.01 350.11,355.80 350.60,355.80 C351.11,355.80 351.09,394.89 352.10,395.00 C352.47,395.04 353.00,389.99 353.40,390.00 C353.87,390.02 354.17,394.94 354.70,397.00 C355.13,398.68 355.74,401.52 356.20,401.50 C356.75,401.47 357.27,398.15 357.70,395.00 C358.78,387.00 358.90,352.01 359.50,352.00 C359.93,352.00 360.36,367.77 360.80,374.00 C361.13,378.60 361.27,385.97 361.80,386.00 C362.26,386.03 363.16,380.79 363.60,377.20 C364.28,371.68 364.15,364.53 364.50,356.00 C365.03,343.04 365.79,319.41 366.40,307.00 C366.77,299.39 367.05,288.61 367.50,288.60 C367.95,288.59 368.65,301.06 369.10,307.30 C369.55,313.53 369.74,319.83 370.20,326.00 C370.65,332.06 371.21,338.18 371.80,344.00 C372.35,349.49 372.98,354.67 373.60,360.00 C374.22,365.33 374.68,371.45 375.50,376.00 C376.12,379.45 377.05,385.04 377.70,385.00 C378.64,384.94 379.36,372.55 380.00,366.00 C380.68,359.01 381.05,344.30 381.60,344.30 C382.12,344.30 382.46,358.78 383.20,364.10 C383.70,367.73 384.46,370.19 385.00,373.20 C385.53,376.15 385.94,378.67 386.40,382.00 C387.00,386.33 387.23,392.82 388.20,397.00 C388.93,400.13 389.85,403.31 391.00,405.00 C391.69,406.02 392.56,406.23 393.30,407.00 C394.13,407.87 395.13,409.07 395.70,410.00 C396.13,410.70 396.31,412.04 396.60,412.00 C397.26,411.92 397.91,404.82 398.50,401.00 C399.15,396.85 399.73,392.15 400.30,388.00 C400.82,384.18 401.31,377.00 401.80,377.00 C402.24,377.00 402.67,383.00 403.10,386.00 C403.53,389.00 404.00,395.01 404.40,395.00 C404.95,394.98 405.49,383.90 405.90,378.00 C406.34,371.61 406.51,358.00 406.90,358.00 C407.28,358.00 407.32,372.00 408.20,377.00 C408.80,380.37 409.73,385.21 410.60,385.30 C411.17,385.36 412.40,382.00 412.40,382.00" fill="none" stroke="#1e1e1e" stroke-width="1.4" stroke-linejoin="round"/>
<path d="M173.80,421.70 C173.80,421.70 175.71,419.75 176.60,418.60 C177.58,417.34 178.42,415.68 179.40,414.40 C180.30,413.23 181.22,411.86 182.20,411.20 C182.94,410.70 183.73,410.28 184.50,410.40 C185.43,410.54 186.45,411.70 187.30,412.50 C188.15,413.30 188.81,414.22 189.60,415.20 C190.50,416.32 191.38,417.93 192.40,418.90 C193.27,419.73 194.17,420.21 195.20,420.80 C196.35,421.46 197.82,422.11 199.00,422.60 C199.99,423.01 200.73,423.42 201.80,423.60 C203.13,423.83 204.97,423.86 206.40,423.60 C207.72,423.36 208.93,422.37 210.10,422.20 C211.08,422.06 212.32,422.05 212.90,422.40 C213.30,422.64 213.40,423.54 213.60,423.50 C213.98,423.43 214.12,420.74 214.40,419.00 C214.78,416.62 215.16,413.08 215.60,410.50 C215.97,408.32 216.43,406.76 216.80,404.50 C217.28,401.60 217.68,397.79 218.10,394.50 C218.51,391.29 218.88,385.00 219.30,385.00 C219.72,385.00 220.20,391.21 220.60,394.50 C221.03,398.03 221.29,402.08 221.80,405.50 C222.25,408.52 222.92,414.01 223.40,414.00 C223.88,413.99 224.32,408.03 224.70,405.50 C225.00,403.47 225.24,400.00 225.50,400.00 C225.81,400.01 226.11,405.12 226.40,408.00 C226.74,411.37 226.78,415.91 227.40,419.00 C227.87,421.33 228.26,424.03 229.30,425.00 C229.97,425.62 230.69,425.43 231.80,425.60 C233.91,425.93 238.03,426.08 241.10,426.30 C244.10,426.51 246.67,426.67 250.00,426.90 C254.25,427.19 261.07,427.59 264.50,427.90 C266.39,428.07 268.10,429.05 268.90,428.40 C269.70,427.75 269.15,424.00 269.30,424.00 C269.45,424.00 268.99,427.90 269.80,428.40 C270.68,428.94 273.09,426.76 274.70,426.60 C276.19,426.46 277.38,427.07 279.10,427.30 C281.51,427.62 284.60,428.10 287.80,428.20 C291.72,428.33 296.81,427.86 300.90,427.70 C304.51,427.56 308.41,427.57 311.10,427.30 C312.88,427.12 314.34,427.42 315.50,426.60 C316.83,425.66 317.56,423.97 318.30,421.50 C319.87,416.27 319.81,404.65 320.40,395.50 C321.06,385.28 321.42,371.93 322.00,363.00 C322.41,356.73 322.75,347.05 323.30,347.00 C323.54,346.98 323.82,348.64 324.10,350.00 C324.66,352.74 325.37,357.82 325.90,362.60 C326.59,368.85 326.89,377.07 327.60,384.30 C328.32,391.57 329.16,401.16 330.20,406.10 C330.75,408.72 331.52,412.06 332.00,412.00 C332.91,411.90 333.08,397.66 333.50,390.00 C333.96,381.65 334.23,363.80 334.60,363.80 C334.97,363.80 335.34,381.46 335.70,390.00 C336.04,398.18 336.31,414.00 336.70,414.00 C337.21,414.00 337.94,386.83 338.50,373.50 C339.04,360.50 339.35,344.86 340.00,335.00 C340.41,328.84 341.00,319.99 341.40,320.00 C341.91,320.01 342.25,335.45 342.60,345.00 C343.06,357.81 342.37,389.80 343.70,390.00 C344.15,390.07 344.82,384.98 345.40,385.00 C346.17,385.03 347.08,393.97 347.80,394.00 C348.27,394.02 348.73,392.20 349.10,390.30 C350.19,384.64 350.11,355.60 350.60,355.60 C351.11,355.60 351.07,393.88 352.10,394.00 C352.47,394.04 353.00,389.28 353.40,389.30 C353.87,389.32 354.11,394.14 354.70,395.90 C355.12,397.16 355.74,399.04 356.20,399.00 C356.76,398.96 357.28,396.52 357.70,394.00 C358.91,386.85 358.90,352.01 359.50,352.00 C359.93,352.00 360.36,367.30 360.80,373.50 C361.13,378.23 361.26,385.97 361.80,386.00 C362.25,386.03 363.16,380.79 363.60,377.20 C364.28,371.68 364.15,364.52 364.50,356.00 C365.03,343.09 365.78,319.42 366.40,307.30 C366.77,300.07 367.05,290.01 367.50,290.00 C367.95,289.99 368.67,301.14 369.10,307.30 C369.60,314.35 369.40,324.89 370.20,330.00 C370.62,332.67 371.12,334.36 371.80,336.00 C372.32,337.24 373.10,337.44 373.60,339.10 C375.08,343.98 374.64,361.39 375.50,370.00 C376.12,376.22 376.99,386.01 377.70,386.00 C378.49,385.99 379.39,373.08 380.00,366.40 C380.64,359.43 380.87,345.01 381.40,345.00 C381.80,344.99 382.29,353.00 382.70,357.30 C383.16,362.03 383.34,372.12 384.00,372.20 C384.31,372.24 384.78,368.96 385.10,369.00 C385.72,369.07 385.88,377.67 386.40,382.00 C386.92,386.34 387.30,394.87 388.20,395.00 C388.73,395.08 389.64,390.81 390.10,390.90 C390.89,391.05 389.93,401.37 391.00,404.00 C391.56,405.37 392.52,405.79 393.30,406.70 C394.09,407.63 395.12,408.69 395.70,409.50 C396.10,410.06 396.32,411.06 396.60,411.00 C397.49,410.80 397.44,396.43 398.50,392.70 C399.00,390.94 399.81,390.61 400.30,389.00 C401.10,386.35 401.30,378.01 401.80,378.00 C402.23,377.99 402.67,383.28 403.10,386.00 C403.54,388.81 404.00,394.61 404.40,394.60 C404.96,394.58 405.49,383.80 405.90,378.00 C406.35,371.65 406.50,358.00 406.90,358.00 C407.28,358.00 407.67,370.61 408.20,376.00 C408.63,380.41 409.05,387.94 409.70,388.00 C410.11,388.03 410.52,383.51 411.10,383.40 C411.48,383.33 412.40,385.00 412.40,385.00" fill="none" stroke="#f52525" stroke-width="1.4" stroke-linejoin="round"/>
<path d="M173.80,422.60 C173.80,422.60 175.70,420.28 176.60,419.00 C177.57,417.63 178.43,415.97 179.40,414.60 C180.30,413.32 181.21,411.77 182.20,411.00 C182.93,410.43 183.70,409.97 184.50,410.00 C185.40,410.04 186.46,410.85 187.30,411.50 C188.17,412.17 188.79,413.13 189.60,414.00 C190.49,414.96 191.40,416.21 192.40,417.00 C193.28,417.70 194.17,418.12 195.20,418.60 C196.35,419.14 197.83,419.58 199.00,420.00 C200.00,420.36 200.74,420.73 201.80,421.00 C203.13,421.34 204.96,421.76 206.40,421.70 C207.71,421.64 209.12,421.25 210.10,420.80 C210.85,420.46 211.42,419.36 211.90,419.50 C212.47,419.66 212.71,422.41 213.10,422.40 C213.55,422.38 214.03,420.08 214.40,418.50 C214.94,416.19 215.16,412.45 215.60,409.80 C215.97,407.55 216.42,405.91 216.80,403.60 C217.27,400.69 217.68,396.98 218.10,393.70 C218.51,390.45 218.88,384.00 219.30,384.00 C219.72,384.00 220.20,390.35 220.60,393.70 C221.03,397.30 221.28,401.48 221.80,404.90 C222.25,407.83 222.92,413.01 223.40,413.00 C223.88,412.99 224.33,407.33 224.70,404.90 C225.01,402.92 225.24,399.50 225.50,399.50 C225.81,399.51 226.11,404.46 226.40,407.30 C226.75,410.69 226.76,415.41 227.40,418.50 C227.87,420.78 228.28,423.32 229.30,424.30 C229.97,424.94 230.69,424.80 231.80,425.00 C233.90,425.38 238.03,425.55 241.10,425.80 C244.10,426.05 246.67,426.25 250.00,426.50 C254.25,426.81 260.27,427.59 264.50,427.50 C267.80,427.43 271.43,427.38 273.30,426.50 C274.40,425.99 274.63,424.50 275.50,424.40 C276.52,424.28 277.58,425.96 279.10,426.50 C281.31,427.28 284.60,427.66 287.80,427.80 C291.71,427.97 296.81,427.23 300.90,427.00 C304.51,426.80 308.40,426.66 311.10,426.50 C312.87,426.40 314.33,426.92 315.50,426.20 C316.80,425.40 317.56,423.81 318.30,421.50 C319.90,416.50 319.80,404.92 320.40,396.00 C321.06,386.18 321.39,373.12 322.00,365.00 C322.40,359.73 322.71,352.08 323.30,352.00 C323.54,351.97 323.83,353.06 324.10,354.00 C324.69,356.04 325.38,360.04 325.90,364.00 C326.64,369.70 326.91,377.85 327.60,385.00 C328.33,392.50 329.17,402.71 330.20,408.00 C330.75,410.86 331.51,414.55 332.00,414.50 C332.79,414.43 333.08,403.10 333.50,397.00 C333.96,390.32 334.23,376.00 334.60,376.00 C334.97,376.00 335.35,390.09 335.70,397.00 C336.05,403.75 336.33,417.00 336.70,417.00 C337.23,417.00 337.96,389.24 338.50,375.00 C339.06,360.26 339.33,343.52 340.00,330.00 C340.55,318.90 341.51,299.69 342.00,299.70 C342.57,299.71 342.73,325.78 343.00,340.00 C343.31,355.98 342.88,390.85 343.70,390.90 C344.12,390.92 344.85,377.79 345.40,377.80 C346.03,377.81 346.23,394.86 347.20,395.00 C347.72,395.07 348.59,392.61 349.10,390.30 C350.34,384.65 350.12,360.00 350.60,360.00 C351.12,360.00 351.04,394.86 352.10,395.00 C352.47,395.05 353.01,390.97 353.40,391.00 C353.91,391.03 354.09,396.19 354.70,398.00 C355.12,399.24 355.74,401.04 356.20,401.00 C356.77,400.95 357.28,398.53 357.70,396.00 C358.93,388.64 358.90,352.00 359.50,352.00 C359.93,352.00 360.36,368.36 360.80,375.00 C361.13,380.07 361.28,388.38 361.80,388.40 C362.26,388.42 363.16,382.13 363.60,378.00 C364.23,372.04 364.15,364.77 364.50,356.00 C365.02,342.95 365.77,319.31 366.40,307.30 C366.77,300.24 367.05,290.51 367.50,290.50 C367.95,290.49 368.66,301.47 369.10,307.30 C369.58,313.60 369.74,320.59 370.20,327.00 C370.64,333.14 371.21,339.18 371.80,345.00 C372.35,350.49 372.98,355.67 373.60,361.00 C374.22,366.33 374.68,372.45 375.50,377.00 C376.12,380.45 377.05,386.04 377.70,386.00 C378.64,385.94 379.39,373.50 380.00,367.00 C380.64,360.18 380.87,346.01 381.40,346.00 C381.80,345.99 382.31,353.50 382.70,358.00 C383.20,363.77 383.36,377.75 384.00,377.80 C384.32,377.83 384.77,372.98 385.10,373.00 C385.62,373.03 385.89,381.17 386.40,385.30 C386.92,389.50 387.30,394.29 388.20,398.00 C388.93,401.01 389.85,404.31 391.00,406.00 C391.69,407.02 392.56,407.23 393.30,408.00 C394.13,408.87 395.13,410.07 395.70,411.00 C396.13,411.70 396.31,413.04 396.60,413.00 C397.28,412.91 397.94,405.57 398.50,401.00 C399.23,394.98 399.78,385.80 400.30,380.00 C400.67,375.90 400.89,369.51 401.30,369.50 C401.79,369.49 402.53,379.74 403.10,384.00 C403.55,387.36 404.00,393.01 404.40,393.00 C404.95,392.98 405.50,382.12 405.90,376.00 C406.37,368.85 406.51,352.70 406.90,352.70 C407.28,352.70 407.62,368.72 408.20,375.00 C408.62,379.62 409.23,387.00 409.70,387.00 C410.19,387.00 410.52,374.03 411.10,374.00 C411.48,373.98 412.40,379.70 412.40,379.70" fill="none" stroke="#1515f5" stroke-width="1.4" stroke-linejoin="round"/>
<path d="M173.80,421.20 C173.80,421.20 175.72,419.48 176.60,418.40 C177.60,417.18 178.42,415.48 179.40,414.20 C180.30,413.03 181.23,411.71 182.20,411.00 C182.95,410.46 183.72,409.93 184.50,410.00 C185.41,410.08 186.44,411.19 187.30,411.90 C188.14,412.59 188.80,413.40 189.60,414.20 C190.49,415.09 191.41,416.28 192.40,417.00 C193.28,417.64 194.18,417.96 195.20,418.40 C196.36,418.90 197.83,419.38 199.00,419.80 C200.00,420.16 200.74,420.51 201.80,420.80 C203.13,421.17 204.95,421.73 206.40,421.70 C207.70,421.67 209.11,421.19 210.10,420.80 C210.83,420.51 211.42,419.64 211.90,419.80 C212.47,419.98 212.72,422.42 213.10,422.40 C213.56,422.37 214.03,420.08 214.40,418.50 C214.94,416.19 215.16,412.45 215.60,409.80 C215.97,407.55 216.42,405.91 216.80,403.60 C217.27,400.69 217.68,397.01 218.10,393.70 C218.52,390.38 218.88,383.70 219.30,383.70 C219.72,383.70 220.19,390.27 220.60,393.70 C221.03,397.33 221.29,401.41 221.80,404.90 C222.25,407.99 222.92,413.61 223.40,413.60 C223.88,413.59 224.32,407.48 224.70,404.90 C225.00,402.83 225.24,399.30 225.50,399.30 C225.81,399.30 226.11,404.41 226.40,407.30 C226.74,410.72 226.75,415.44 227.40,418.50 C227.87,420.72 228.29,423.14 229.30,424.10 C229.97,424.73 230.69,424.61 231.80,424.80 C233.90,425.16 238.04,425.16 241.10,425.40 C244.10,425.63 246.67,425.92 250.00,426.20 C254.25,426.55 260.27,427.24 264.50,427.30 C267.80,427.35 271.38,427.44 273.30,426.90 C274.32,426.61 274.66,425.77 275.50,425.70 C276.54,425.61 277.62,426.57 279.10,426.90 C281.35,427.40 284.60,427.79 287.80,427.90 C291.72,428.03 296.81,427.47 300.90,427.30 C304.51,427.15 308.41,427.17 311.10,426.90 C312.88,426.72 314.33,427.01 315.50,426.20 C316.81,425.29 317.56,423.70 318.30,421.30 C319.89,416.14 319.81,404.39 320.40,395.20 C321.06,384.94 321.38,371.12 322.00,362.60 C322.40,357.09 322.66,349.11 323.30,349.00 C323.54,348.96 323.84,349.85 324.10,350.70 C324.75,352.85 325.38,358.03 325.90,362.60 C326.60,368.74 326.89,377.07 327.60,384.30 C328.32,391.57 329.19,400.99 330.20,406.10 C330.76,408.93 331.51,412.65 332.00,412.60 C332.79,412.53 333.08,401.32 333.50,395.20 C333.97,388.37 334.23,373.50 334.60,373.50 C334.97,373.50 335.34,388.15 335.70,395.20 C336.04,401.90 336.33,414.80 336.70,414.80 C337.23,414.80 337.94,387.03 338.50,373.50 C339.04,360.44 339.32,344.56 340.00,335.00 C340.40,329.31 341.00,321.39 341.40,321.40 C341.92,321.41 342.26,335.83 342.60,345.00 C343.08,357.78 342.54,390.77 343.70,390.90 C344.15,390.95 344.79,384.30 345.40,384.30 C346.14,384.30 347.07,393.97 347.80,394.00 C348.26,394.02 348.73,392.18 349.10,390.30 C350.14,384.96 350.11,358.60 350.60,358.60 C351.11,358.60 351.11,393.89 352.10,394.00 C352.47,394.04 353.00,389.28 353.40,389.30 C353.87,389.32 354.09,394.20 354.70,395.90 C355.12,397.07 355.74,398.74 356.20,398.70 C356.77,398.65 357.28,396.40 357.70,394.00 C358.95,386.94 358.90,351.20 359.50,351.20 C359.93,351.20 360.35,367.34 360.80,373.50 C361.12,377.87 361.25,384.66 361.80,384.70 C362.25,384.73 363.16,380.36 363.60,377.20 C364.33,371.96 364.15,364.52 364.50,356.00 C365.03,343.09 365.76,319.10 366.40,307.30 C366.77,300.55 367.05,291.41 367.50,291.40 C367.95,291.39 368.66,301.82 369.10,307.30 C369.57,313.16 369.75,319.44 370.20,325.50 C370.65,331.54 371.21,337.77 371.80,343.60 C372.35,349.08 372.98,354.19 373.60,359.50 C374.22,364.83 374.68,370.95 375.50,375.50 C376.12,378.95 377.04,384.54 377.70,384.50 C378.62,384.45 379.39,372.68 380.00,366.40 C380.65,359.62 380.87,345.21 381.40,345.20 C381.80,345.19 382.29,353.05 382.70,357.30 C383.16,362.01 383.38,372.14 384.00,372.20 C384.32,372.23 384.78,368.47 385.10,368.50 C385.69,368.56 385.90,377.10 386.40,381.60 C386.93,386.41 387.25,392.30 388.20,396.50 C388.93,399.71 389.83,403.10 391.00,404.80 C391.68,405.79 392.56,405.97 393.30,406.70 C394.13,407.51 395.15,408.51 395.70,409.50 C396.20,410.39 396.30,412.32 396.60,412.30 C397.22,412.25 397.89,404.32 398.50,400.20 C399.13,395.92 399.73,391.29 400.30,387.10 C400.83,383.25 401.31,376.00 401.80,376.00 C402.25,376.00 402.67,382.20 403.10,385.30 C403.53,388.40 403.99,394.61 404.40,394.60 C404.95,394.59 405.49,383.68 405.90,377.80 C406.35,371.31 406.51,357.30 406.90,357.30 C407.28,357.30 407.65,370.58 408.20,376.00 C408.63,380.19 409.24,387.11 409.70,387.10 C410.23,387.09 410.56,372.22 411.10,372.20 C411.49,372.19 412.40,380.00 412.40,380.00" fill="none" stroke="#25eb25" stroke-width="1.4" stroke-linejoin="round"/>
<line x1="41.6" y1="64" x2="41.6" y2="179.3" stroke="#f799f7" stroke-width="1.1" stroke-dasharray="2.6 2.6"/>
<line x1="177.2" y1="7" x2="177.2" y2="179.3" stroke="#f799f7" stroke-width="1.1" stroke-dasharray="2.6 2.6"/>
<line x1="326.5" y1="74.7" x2="326.5" y2="181.8" stroke="#f799f7" stroke-width="1.1" stroke-dasharray="2.6 2.6"/>
<line x1="466.3" y1="2.8" x2="466.3" y2="181.8" stroke="#f799f7" stroke-width="1.1" stroke-dasharray="2.6 2.6"/>
<line x1="184.0" y1="303.7" x2="184.0" y2="431.0" stroke="#f799f7" stroke-width="1.1" stroke-dasharray="2.6 2.6"/>
<line x1="340.5" y1="253.7" x2="340.5" y2="431.0" stroke="#f799f7" stroke-width="1.1" stroke-dasharray="2.6 2.6"/>
<line x1="33.30" y1="5.80" x2="33.30" y2="180.30" stroke="#333" stroke-width="1.15"/>
<line x1="32.80" y1="179.80" x2="255.20" y2="179.80" stroke="#333" stroke-width="1.15"/>
<line x1="29.90" y1="179.80" x2="33.30" y2="179.80" stroke="#222" stroke-width="0.9"/>
<text x="27.80" y="182.93" font-size="9.2" text-anchor="end">0.0</text>
<line x1="31.40" y1="158.05" x2="33.30" y2="158.05" stroke="#222" stroke-width="0.9"/>
<line x1="29.90" y1="136.30" x2="33.30" y2="136.30" stroke="#222" stroke-width="0.9"/>
<text x="27.80" y="139.43" font-size="9.2" text-anchor="end">0.1</text>
<line x1="31.40" y1="114.55" x2="33.30" y2="114.55" stroke="#222" stroke-width="0.9"/>
<line x1="29.90" y1="92.80" x2="33.30" y2="92.80" stroke="#222" stroke-width="0.9"/>
<text x="27.80" y="95.93" font-size="9.2" text-anchor="end">0.2</text>
<line x1="31.40" y1="71.05" x2="33.30" y2="71.05" stroke="#222" stroke-width="0.9"/>
<line x1="29.90" y1="49.30" x2="33.30" y2="49.30" stroke="#222" stroke-width="0.9"/>
<text x="27.80" y="52.43" font-size="9.2" text-anchor="end">0.3</text>
<line x1="31.40" y1="27.55" x2="33.30" y2="27.55" stroke="#222" stroke-width="0.9"/>
<line x1="29.90" y1="5.80" x2="33.30" y2="5.80" stroke="#222" stroke-width="0.9"/>
<text x="27.80" y="8.93" font-size="9.2" text-anchor="end">0.4</text>
<line x1="49.44" y1="179.80" x2="49.44" y2="181.70" stroke="#222" stroke-width="0.9"/>
<line x1="69.61" y1="179.80" x2="69.61" y2="183.20" stroke="#222" stroke-width="0.9"/>
<text x="69.61" y="193.20" font-size="9.2" text-anchor="middle">3000</text>
<line x1="89.78" y1="179.80" x2="89.78" y2="181.70" stroke="#222" stroke-width="0.9"/>
<line x1="109.96" y1="179.80" x2="109.96" y2="183.20" stroke="#222" stroke-width="0.9"/>
<text x="109.96" y="193.20" font-size="9.2" text-anchor="middle">2500</text>
<line x1="130.13" y1="179.80" x2="130.13" y2="181.70" stroke="#222" stroke-width="0.9"/>
<line x1="150.30" y1="179.80" x2="150.30" y2="183.20" stroke="#222" stroke-width="0.9"/>
<text x="150.30" y="193.20" font-size="9.2" text-anchor="middle">2000</text>
<line x1="170.47" y1="179.80" x2="170.47" y2="181.70" stroke="#222" stroke-width="0.9"/>
<line x1="190.65" y1="179.80" x2="190.65" y2="183.20" stroke="#222" stroke-width="0.9"/>
<text x="190.65" y="193.20" font-size="9.2" text-anchor="middle">1500</text>
<line x1="210.82" y1="179.80" x2="210.82" y2="181.70" stroke="#222" stroke-width="0.9"/>
<line x1="230.99" y1="179.80" x2="230.99" y2="183.20" stroke="#222" stroke-width="0.9"/>
<text x="230.99" y="193.20" font-size="9.2" text-anchor="middle">1000</text>
<line x1="251.17" y1="179.80" x2="251.17" y2="181.70" stroke="#222" stroke-width="0.9"/>
<text x="11.2" y="83" font-size="9.6" text-anchor="middle" transform="rotate(-90 11.2 83)">Abs.</text>
<text x="106.4" y="207.6" font-size="9.7" textLength="84" lengthAdjust="spacingAndGlyphs">Wavenumber (cm<tspan font-size="6.01" dy="-3.69">-1</tspan><tspan dy="3.69">)</tspan></text>
<line x1="40" y1="15.8" x2="59" y2="15.8" stroke="#1e1e1e" stroke-width="1.45"/>
<text x="62" y="18.67" font-size="8.45">PU_1.0 Bk</text>
<line x1="40" y1="26.4" x2="59" y2="26.4" stroke="#f52525" stroke-width="1.45"/>
<text x="62" y="29.27" font-size="8.45">PU_1.1 Bz</text>
<line x1="40" y1="37.2" x2="59" y2="37.2" stroke="#1515f5" stroke-width="1.45"/>
<text x="62" y="40.07" font-size="8.45">PU_1.2 o-PhDA</text>
<line x1="40" y1="47.9" x2="59" y2="47.9" stroke="#25eb25" stroke-width="1.45"/>
<text x="62" y="50.77" font-size="8.45">PU_1.3 di-PhHA</text>
<line x1="318.60" y1="5.45" x2="318.60" y2="182.80" stroke="#333" stroke-width="1.15"/>
<line x1="318.10" y1="182.30" x2="546.00" y2="182.30" stroke="#333" stroke-width="1.15"/>
<line x1="315.20" y1="182.30" x2="318.60" y2="182.30" stroke="#222" stroke-width="0.9"/>
<text x="312.60" y="185.30" font-size="10.0" text-anchor="end">0.0</text>
<line x1="316.70" y1="162.65" x2="318.60" y2="162.65" stroke="#222" stroke-width="0.9"/>
<line x1="315.20" y1="143.00" x2="318.60" y2="143.00" stroke="#222" stroke-width="0.9"/>
<text x="312.60" y="146.00" font-size="10.0" text-anchor="end">0.1</text>
<line x1="316.70" y1="123.35" x2="318.60" y2="123.35" stroke="#222" stroke-width="0.9"/>
<line x1="315.20" y1="103.70" x2="318.60" y2="103.70" stroke="#222" stroke-width="0.9"/>
<text x="312.60" y="106.70" font-size="10.0" text-anchor="end">0.2</text>
<line x1="316.70" y1="84.05" x2="318.60" y2="84.05" stroke="#222" stroke-width="0.9"/>
<line x1="315.20" y1="64.40" x2="318.60" y2="64.40" stroke="#222" stroke-width="0.9"/>
<text x="312.60" y="67.40" font-size="10.0" text-anchor="end">0.3</text>
<line x1="316.70" y1="44.75" x2="318.60" y2="44.75" stroke="#222" stroke-width="0.9"/>
<line x1="315.20" y1="25.10" x2="318.60" y2="25.10" stroke="#222" stroke-width="0.9"/>
<text x="312.60" y="28.10" font-size="10.0" text-anchor="end">0.4</text>
<line x1="316.70" y1="5.45" x2="318.60" y2="5.45" stroke="#222" stroke-width="0.9"/>
<line x1="335.14" y1="182.30" x2="335.14" y2="184.20" stroke="#222" stroke-width="0.9"/>
<line x1="355.81" y1="182.30" x2="355.81" y2="185.70" stroke="#222" stroke-width="0.9"/>
<text x="355.81" y="196.30" font-size="10.0" text-anchor="middle">3000</text>
<line x1="376.48" y1="182.30" x2="376.48" y2="184.20" stroke="#222" stroke-width="0.9"/>
<line x1="397.16" y1="182.30" x2="397.16" y2="185.70" stroke="#222" stroke-width="0.9"/>
<text x="397.16" y="196.30" font-size="10.0" text-anchor="middle">2500</text>
<line x1="417.83" y1="182.30" x2="417.83" y2="184.20" stroke="#222" stroke-width="0.9"/>
<line x1="438.50" y1="182.30" x2="438.50" y2="185.70" stroke="#222" stroke-width="0.9"/>
<text x="438.50" y="196.30" font-size="10.0" text-anchor="middle">2000</text>
<line x1="459.17" y1="182.30" x2="459.17" y2="184.20" stroke="#222" stroke-width="0.9"/>
<line x1="479.85" y1="182.30" x2="479.85" y2="185.70" stroke="#222" stroke-width="0.9"/>
<text x="479.85" y="196.30" font-size="10.0" text-anchor="middle">1500</text>
<line x1="500.52" y1="182.30" x2="500.52" y2="184.20" stroke="#222" stroke-width="0.9"/>
<line x1="521.19" y1="182.30" x2="521.19" y2="185.70" stroke="#222" stroke-width="0.9"/>
<text x="521.19" y="196.30" font-size="10.0" text-anchor="middle">1000</text>
<line x1="541.87" y1="182.30" x2="541.87" y2="184.20" stroke="#222" stroke-width="0.9"/>
<text x="294.2" y="95" font-size="9.6" text-anchor="middle" transform="rotate(-90 294.2 95)">Abs.</text>
<text x="389.4" y="209.2" font-size="9.9" textLength="86.6" lengthAdjust="spacingAndGlyphs">Wavenumber (cm<tspan font-size="6.14" dy="-3.76">-1</tspan><tspan dy="3.76">)</tspan></text>
<line x1="325.6" y1="15.0" x2="345.6" y2="15.0" stroke="#1e1e1e" stroke-width="1.45"/>
<text x="348" y="17.94" font-size="8.65">PU_2.0 Bk</text>
<line x1="325.6" y1="25.8" x2="345.6" y2="25.8" stroke="#f52525" stroke-width="1.45"/>
<text x="348" y="28.74" font-size="8.65">PU_2.1 Bz</text>
<line x1="325.6" y1="36.5" x2="345.6" y2="36.5" stroke="#1515f5" stroke-width="1.45"/>
<text x="348" y="39.44" font-size="8.65">PU_2.2 o-PhDA</text>
<line x1="325.6" y1="47.3" x2="345.6" y2="47.3" stroke="#25eb25" stroke-width="1.45"/>
<text x="348" y="50.24" font-size="8.65">PU_2.3 di-PhHA</text>
<line x1="173.70" y1="243.10" x2="173.70" y2="432.00" stroke="#333" stroke-width="1.15"/>
<line x1="173.20" y1="431.50" x2="412.40" y2="431.50" stroke="#333" stroke-width="1.15"/>
<line x1="170.30" y1="431.50" x2="173.70" y2="431.50" stroke="#222" stroke-width="0.9"/>
<text x="167.70" y="435.50" font-size="10.3" text-anchor="end">0.0</text>
<line x1="171.80" y1="407.95" x2="173.70" y2="407.95" stroke="#222" stroke-width="0.9"/>
<line x1="170.30" y1="384.40" x2="173.70" y2="384.40" stroke="#222" stroke-width="0.9"/>
<text x="167.70" y="388.40" font-size="10.3" text-anchor="end">0.1</text>
<line x1="171.80" y1="360.85" x2="173.70" y2="360.85" stroke="#222" stroke-width="0.9"/>
<line x1="170.30" y1="337.30" x2="173.70" y2="337.30" stroke="#222" stroke-width="0.9"/>
<text x="167.70" y="341.30" font-size="10.3" text-anchor="end">0.2</text>
<line x1="171.80" y1="313.75" x2="173.70" y2="313.75" stroke="#222" stroke-width="0.9"/>
<line x1="170.30" y1="290.20" x2="173.70" y2="290.20" stroke="#222" stroke-width="0.9"/>
<text x="167.70" y="294.20" font-size="10.3" text-anchor="end">0.3</text>
<line x1="171.80" y1="266.65" x2="173.70" y2="266.65" stroke="#222" stroke-width="0.9"/>
<line x1="170.30" y1="243.10" x2="173.70" y2="243.10" stroke="#222" stroke-width="0.9"/>
<text x="167.70" y="247.10" font-size="10.3" text-anchor="end">0.4</text>
<line x1="191.06" y1="431.50" x2="191.06" y2="433.40" stroke="#222" stroke-width="0.9"/>
<line x1="212.76" y1="431.50" x2="212.76" y2="434.90" stroke="#222" stroke-width="0.9"/>
<text x="212.76" y="446.00" font-size="10.3" text-anchor="middle">3000</text>
<line x1="234.46" y1="431.50" x2="234.46" y2="433.40" stroke="#222" stroke-width="0.9"/>
<line x1="256.16" y1="431.50" x2="256.16" y2="434.90" stroke="#222" stroke-width="0.9"/>
<text x="256.16" y="446.00" font-size="10.3" text-anchor="middle">2500</text>
<line x1="277.86" y1="431.50" x2="277.86" y2="433.40" stroke="#222" stroke-width="0.9"/>
<line x1="299.56" y1="431.50" x2="299.56" y2="434.90" stroke="#222" stroke-width="0.9"/>
<text x="299.56" y="446.00" font-size="10.3" text-anchor="middle">2000</text>
<line x1="321.26" y1="431.50" x2="321.26" y2="433.40" stroke="#222" stroke-width="0.9"/>
<line x1="342.96" y1="431.50" x2="342.96" y2="434.90" stroke="#222" stroke-width="0.9"/>
<text x="342.96" y="446.00" font-size="10.3" text-anchor="middle">1500</text>
<line x1="364.66" y1="431.50" x2="364.66" y2="433.40" stroke="#222" stroke-width="0.9"/>
<line x1="386.36" y1="431.50" x2="386.36" y2="434.90" stroke="#222" stroke-width="0.9"/>
<text x="386.36" y="446.00" font-size="10.3" text-anchor="middle">1000</text>
<line x1="408.06" y1="431.50" x2="408.06" y2="433.40" stroke="#222" stroke-width="0.9"/>
<text x="148" y="333.3" font-size="10.3" text-anchor="middle" transform="rotate(-90 148 333.3)">Abs.</text>
<text x="291.6" y="457.7" font-size="10.3" textLength="90.8" lengthAdjust="spacingAndGlyphs">Wavenumber (cm<tspan font-size="6.39" dy="-3.91">-1</tspan><tspan dy="3.91">)</tspan></text>
<line x1="181.2" y1="253.9" x2="202" y2="253.9" stroke="#1e1e1e" stroke-width="1.45"/>
<text x="204.5" y="256.99" font-size="9.1">PUR_S0 BK</text>
<line x1="181.2" y1="265.0" x2="202" y2="265.0" stroke="#f52525" stroke-width="1.45"/>
<text x="204.5" y="268.09" font-size="9.1">PUR_S1 RZ</text>
<line x1="181.2" y1="276.3" x2="202" y2="276.3" stroke="#1515f5" stroke-width="1.45"/>
<text x="204.5" y="279.39" font-size="9.1">PUR_S2 HQ</text>
<line x1="181.2" y1="287.7" x2="202" y2="287.7" stroke="#25eb25" stroke-width="1.45"/>
<text x="204.5" y="290.79" font-size="9.1">PUR_S3 Py</text>
<text x="185.5" y="232.3" font-size="11.6" font-family="'Liberation Serif',serif" font-weight="normal" textLength="185.5" lengthAdjust="spacingAndGlyphs">(<tspan font-weight="bold">a</tspan>) – FTIR spectra of polyurea films</text>
<text x="169.6" y="477.6" font-size="11.6" font-family="'Liberation Serif',serif" font-weight="normal" textLength="216.2" lengthAdjust="spacingAndGlyphs">(<tspan font-weight="bold">b</tspan>) – FT-IR spectra of polyurethane films</text>
</svg></body></html>
